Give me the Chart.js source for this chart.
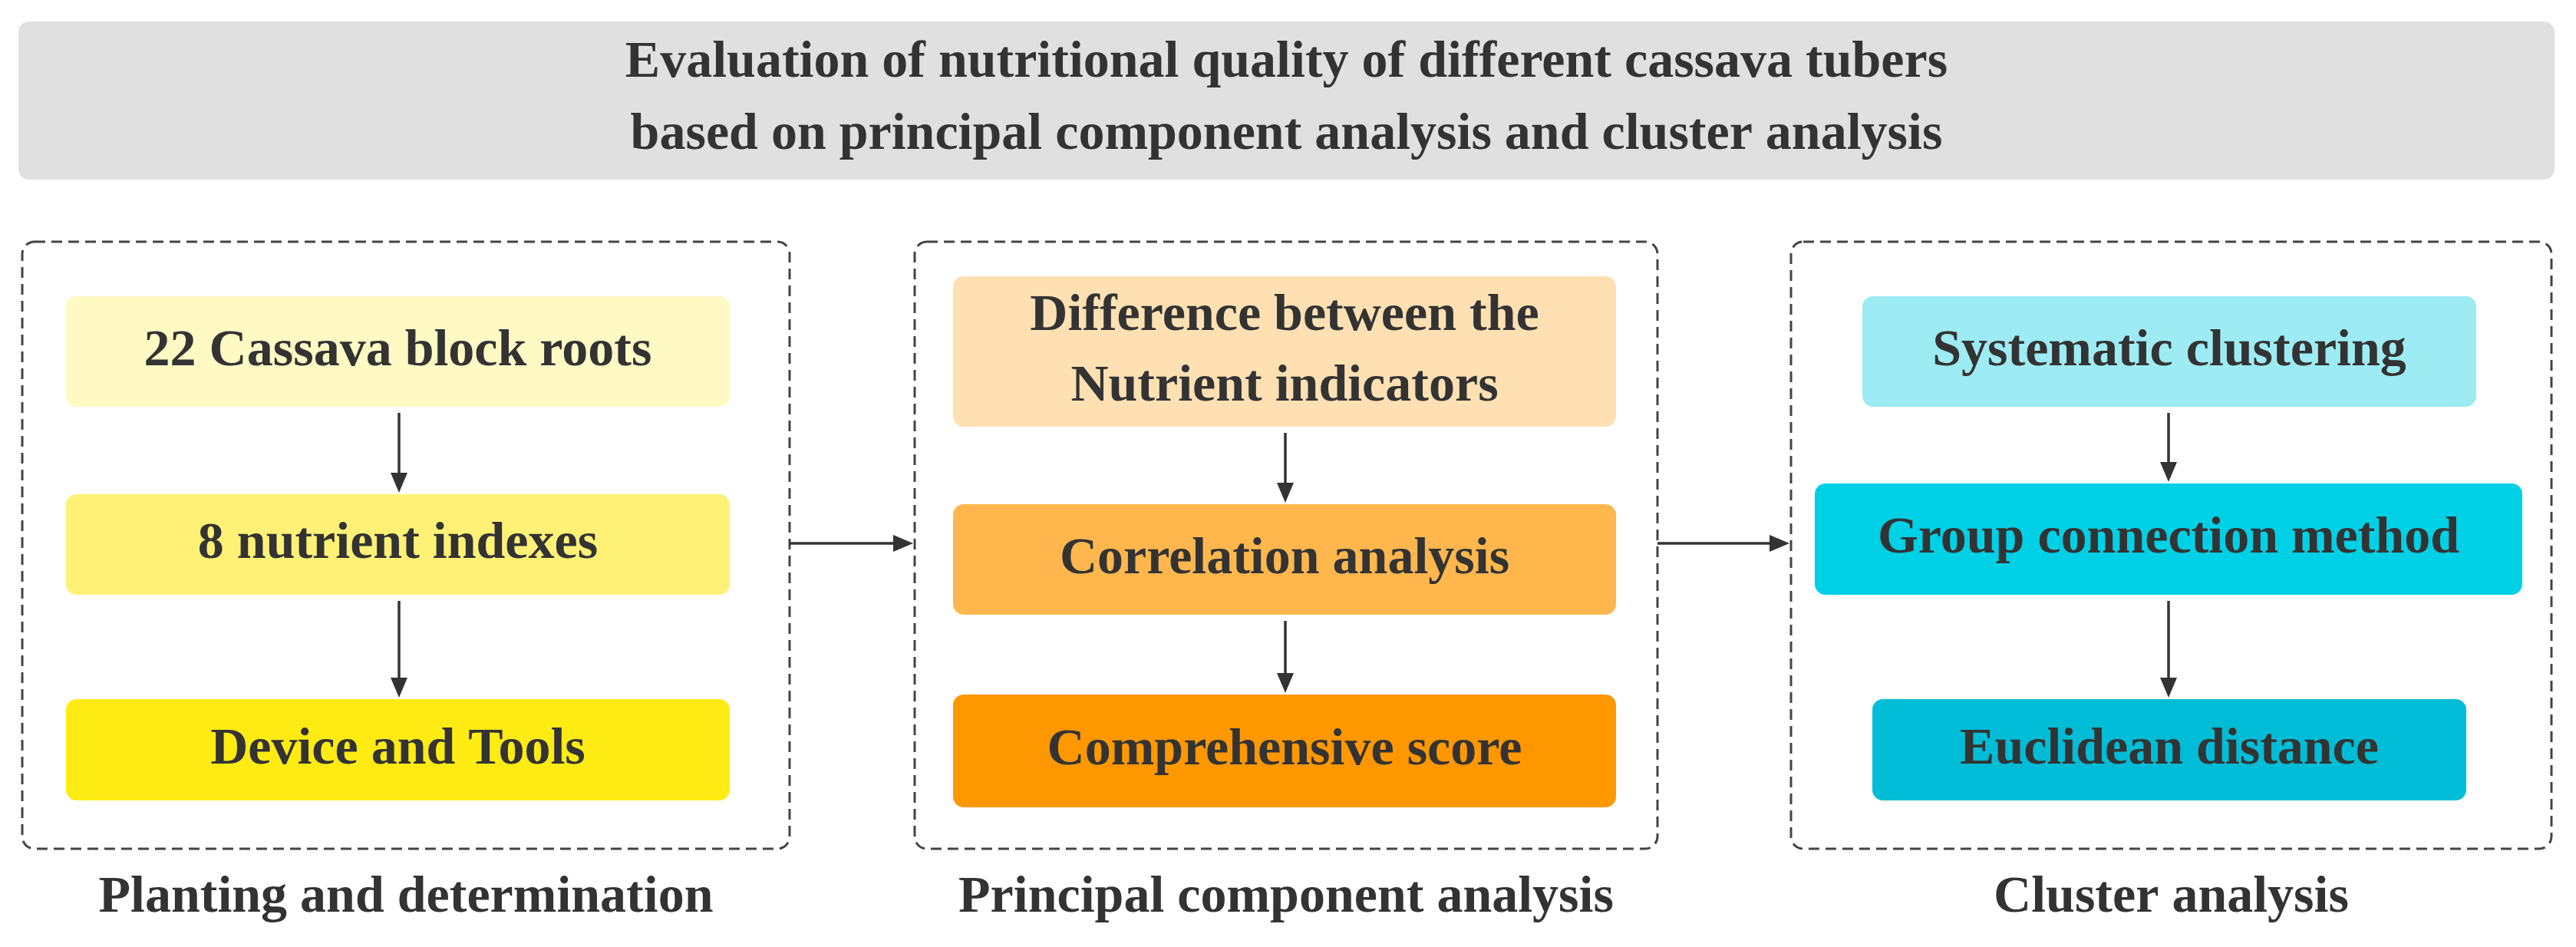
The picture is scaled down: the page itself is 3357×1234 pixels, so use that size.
<!DOCTYPE html>
<html lang="en">
<head>
  <meta charset="UTF-8">
  <title>Cassava nutritional quality flow</title>
  <script src="https://cdn.jsdelivr.net/npm/chart.js"></script>
  <style>
    html, body { margin: 0; padding: 0; background: #fff; }
    canvas { display: block; }
  </style>
</head>
<body>
  <canvas id="chart" width="3357" height="1234"></canvas>
  <script>
    const titleLines = [
      'Evaluation of nutritional quality of different cassava tubers',
      'based on principal component analysis and cluster analysis'
    ];
    const groupLabels = ['Planting and determination', 'Principal component analysis', 'Cluster analysis'];
    const stepTexts = [
      [['22 Cassava block roots'], ['8 nutrient indexes'], ['Device and Tools']],
      [['Difference between the', 'Nutrient indicators'], ['Correlation analysis'], ['Comprehensive score']],
      [['Systematic clustering'], ['Group connection method'], ['Euclidean distance']]
    ];
    const stepColors = [
      ['#fff9c4', '#fff176', '#ffeb14'],
      ['#ffe0b2', '#ffb74d', '#ff9800'],
      ['#9debf3', '#00d0e6', '#00bcd6']
    ];
    // layout in chart units (axis 0..3357 x, 0..1234 y)
    const titleBar = [24, 3329, 28, 234];
    const groupX = [[29, 1029], [1192, 2160], [2334, 3325]];
    const groupY = [315, 1106];
    const stepX = [
      [[86, 951], [86, 951], [86, 951]],
      [[1242, 2106], [1242, 2106], [1242, 2106]],
      [[2427, 3227], [2365, 3287], [2440, 3214]]
    ];
    const stepY = [
      [[386, 530], [644, 775], [911, 1043]],
      [[360, 556], [657, 801], [905, 1052]],
      [[386, 530], [630, 775], [911, 1043]]
    ];
    const arrowX = [520, 1675, 2826];
    const labelY = 1188;
    const linkY = 708;

    const FONT = 'bold 68px "Liberation Serif", "Times New Roman", serif';
    const INK = '#333333';

    function roundRect(ctx, x, y, w, h, r) {
      ctx.beginPath();
      ctx.roundRect(x, y, w, h, r);
    }

    function arrow(ctx, x1, y1, x2, y2) {
      const ang = Math.atan2(y2 - y1, x2 - x1);
      const hl = 26, hw = 11;
      ctx.strokeStyle = INK; ctx.fillStyle = INK; ctx.lineWidth = 3.5;
      ctx.beginPath();
      ctx.moveTo(x1, y1);
      ctx.lineTo(x2 - hl * Math.cos(ang), y2 - hl * Math.sin(ang));
      ctx.stroke();
      ctx.beginPath();
      ctx.moveTo(x2, y2);
      ctx.lineTo(x2 - hl * Math.cos(ang) + hw * Math.sin(ang), y2 - hl * Math.sin(ang) - hw * Math.cos(ang));
      ctx.lineTo(x2 - hl * Math.cos(ang) - hw * Math.sin(ang), y2 - hl * Math.sin(ang) + hw * Math.cos(ang));
      ctx.closePath();
      ctx.fill();
    }

    const flowPlugin = {
      id: 'flow',
      beforeDatasetsDraw(chart) {
        const ctx = chart.ctx;
        const sx = v => chart.scales.x.getPixelForValue(v);
        const sy = v => chart.scales.y.getPixelForValue(v);
        ctx.save();
        ctx.textAlign = 'center';
        ctx.textBaseline = 'middle';

        // title bar
        ctx.fillStyle = '#e0e0e0';
        roundRect(ctx, sx(titleBar[0]), sy(titleBar[2]), sx(titleBar[1]) - sx(titleBar[0]), sy(titleBar[3]) - sy(titleBar[2]), 14);
        ctx.fill();
        ctx.fillStyle = INK;
        ctx.font = FONT;
        const tcx = (sx(titleBar[0]) + sx(titleBar[1])) / 2;
        ctx.fillText(titleLines[0], tcx, sy(82));
        ctx.fillText(titleLines[1], tcx, sy(176));

        groupX.forEach((gx, g) => {
          // dashed frame
          ctx.setLineDash([14, 8]);
          ctx.strokeStyle = '#444';
          ctx.lineWidth = 3;
          roundRect(ctx, sx(gx[0]), sy(groupY[0]), sx(gx[1]) - sx(gx[0]), sy(groupY[1]) - sy(groupY[0]), 16);
          ctx.stroke();
          ctx.setLineDash([]);

          // steps
          stepTexts[g].forEach((lines, i) => {
            const [x0, x1] = stepX[g][i];
            const [y0, y1] = stepY[g][i];
            ctx.fillStyle = stepColors[g][i];
            roundRect(ctx, sx(x0), sy(y0), sx(x1) - sx(x0), sy(y1) - sy(y0), 14);
            ctx.fill();
            ctx.fillStyle = INK;
            ctx.font = FONT;
            const cy = (sy(y0) + sy(y1)) / 2;
            const lh = 92;
            lines.forEach((t, k) => {
              ctx.fillText(t, (sx(x0) + sx(x1)) / 2, cy + (k - (lines.length - 1) / 2) * lh);
            });
            if (i < 2) {
              arrow(ctx, sx(arrowX[g]), sy(y1) + 8, sx(arrowX[g]), sy(stepY[g][i + 1][0]) - 2);
            }
          });

          // group label
          ctx.fillStyle = INK;
          ctx.font = FONT;
          ctx.textBaseline = 'alphabetic';
          ctx.fillText(groupLabels[g], (sx(gx[0]) + sx(gx[1])) / 2, sy(labelY));
          ctx.textBaseline = 'middle';

          if (g < groupX.length - 1) {
            arrow(ctx, sx(gx[1]), sy(linkY), sx(groupX[g + 1][0]) - 2, sy(linkY));
          }
        });
        ctx.restore();
      }
    };

    // invisible anchor points at the step centres
    const anchors = [];
    stepX.forEach((col, g) => col.forEach((xs, i) => {
      anchors.push({ x: (xs[0] + xs[1]) / 2, y: (stepY[g][i][0] + stepY[g][i][1]) / 2 });
    }));

    new Chart(document.getElementById('chart').getContext('2d'), {
      type: 'scatter',
      data: { datasets: [{ data: anchors, pointRadius: 0 }] },
      options: {
        responsive: false,
        animation: false,
        devicePixelRatio: 1,
        layout: { padding: 0 },
        plugins: { legend: { display: false }, tooltip: { enabled: false } },
        scales: {
          x: { type: 'linear', min: 0, max: 3357, display: false },
          y: { type: 'linear', min: 0, max: 1234, reverse: true, display: false }
        }
      },
      plugins: [flowPlugin]
    });
  </script>
</body>
</html>
